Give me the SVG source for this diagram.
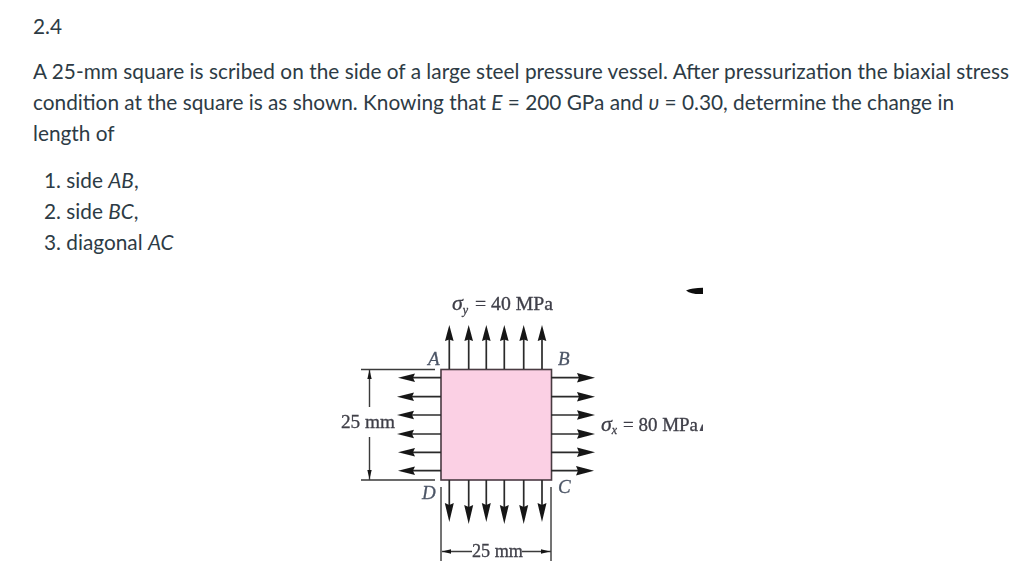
<svg xmlns="http://www.w3.org/2000/svg" width="1024" height="588" viewBox="0 0 1024 588">
<style>
.t{font-family:Lato,"Open Sans","Liberation Sans",sans-serif;font-size:20.8px;fill:#2d3b45}
.i{font-style:italic}
.f{font-family:"Liberation Serif","DejaVu Serif",serif;fill:#3f3f48;stroke:#3f3f48;stroke-width:.3}
.l{font-size:19px;font-style:italic;fill:#4c5566;stroke:#4c5566}
.d{font-size:18px}
.s{font-size:22px;font-style:italic}
.u{font-size:12px;font-style:italic}
.a{stroke:#2b2b2b;stroke-width:1.7;fill:none}
.h{fill:#161616}
.dim{stroke:#3a3a3a;stroke-width:1.4;fill:none}
</style>
<defs>
<filter id="soft" x="-5%" y="-5%" width="110%" height="110%"><feGaussianBlur stdDeviation="0.6"/></filter>
<path id="up" d="M0 0L-4.300 16L0 14.500L4.300 16Z" class="h"/>
<path id="right" d="M0 0L-18 -4.800L-16 0L-18 4.800Z" class="h"/>
<path id="left" d="M0 0L17 -4.300L15 0L17 4.300Z" class="h"/>
<path id="down" d="M0 0L-4.500 -19L0 -17L4.500 -19Z" class="h"/>
<path id="tickr" d="M0 0L-9 -2.200V2.200Z" class="h"/>
<path id="tickl" d="M0 0L9 -2.200V2.200Z" class="h"/>
<path id="ticku" d="M0 0L-2.200 9H2.200Z" class="h"/>
<path id="tickd" d="M0 0L-2.200 -9H2.200Z" class="h"/>
</defs>
<rect width="1024" height="588" fill="#fff"/>
<g id="problem-text">
<text class="t" x="33" y="33.800">2.4</text>
<text class="t" x="33" y="78.800" textLength="976">A 25-mm square is scribed on the side of a large steel pressure vessel. After pressurization the biaxial stress</text>
<text class="t" x="33" y="109.800">condition at the square is as shown. Knowing that <tspan class="i">E</tspan> = 200 GPa and <tspan class="i">υ</tspan> = 0.30, determine the change in</text>
<text class="t" x="33" y="140.800">length of</text>
<text class="t" x="44" y="187.800">1. side <tspan class="i">AB</tspan>,</text>
<text class="t" x="44" y="218.800">2. side <tspan class="i">BC</tspan>,</text>
<text class="t" x="44" y="249.800">3. diagonal <tspan class="i">AC</tspan></text>
</g>
<g id="figure" filter="url(#soft)">
<g id="square"><rect x="441" y="369.500" width="110.500" height="110.500" fill="#fbd0e4" stroke="#4a3a42" stroke-width="1.600"/></g>
<g id="connectors">
<path class="a" d="M449.300 369V336M468.700 369V336M486.300 369V336M504.300 369V336M523.700 369V336M542 369V336"/>
<use href="#up" x="449.300" y="325"/><use href="#up" x="468.700" y="325"/><use href="#up" x="486.300" y="325"/><use href="#up" x="504.300" y="325"/><use href="#up" x="523.700" y="325"/><use href="#up" x="542" y="325"/>
<path class="a" d="M449.300 480V510M468.700 480V510M486.300 480V510M504.300 480V510M523.700 480V510M542 480V510"/>
<use href="#down" x="449.300" y="522"/><use href="#down" x="468.700" y="524"/><use href="#down" x="486.300" y="522"/><use href="#down" x="504.300" y="524"/><use href="#down" x="523.700" y="524"/><use href="#down" x="542" y="522"/>
<path class="a" d="M441 377.700H410M441 396.700H410M441 415H410M441 434H410M441 452.300H410M441 470.700H410"/>
<use href="#left" x="398" y="377.700"/><use href="#left" x="397" y="396.700"/><use href="#left" x="397" y="415"/><use href="#left" x="397" y="434"/><use href="#left" x="398" y="452.300"/><use href="#left" x="398" y="470.700"/>
<path class="a" d="M551 377.700H582M551 396.700H582M551 415H582M551 434H582M551 452.300H582M551 470.700H582"/>
<use href="#right" x="595" y="377.700"/><use href="#right" x="595" y="396.700"/><use href="#right" x="595" y="415"/><use href="#right" x="595" y="434"/><use href="#right" x="595" y="452.300"/><use href="#right" x="594" y="470.700"/>
<path class="dim" d="M361 369.500H435M361 480H435M369.500 370V407M369.500 437V480M441 487V561M551 487V561M442 551.500H472M522 551.500H551"/>
<use href="#ticku" x="369.500" y="370"/><use href="#tickd" x="369.500" y="479"/><use href="#tickl" x="442" y="551.500"/><use href="#tickr" x="550" y="551.500"/>
</g>
<g id="labels">
<text class="f s" x="452" y="310">σ<tspan class="u" dy="4">y</tspan></text>
<text class="f d" x="475" y="310" textLength="78" lengthAdjust="spacingAndGlyphs">= 40 MPa</text>
<text class="f s" x="601" y="431">σ<tspan class="u" dy="3">x</tspan></text>
<text class="f d" x="623" y="431" textLength="75" lengthAdjust="spacingAndGlyphs">= 80 MPa</text>
<text class="f d" x="341" y="428" textLength="54" lengthAdjust="spacingAndGlyphs">25 mm</text>
<text class="f d" x="472" y="557" textLength="51" lengthAdjust="spacingAndGlyphs">25 mm</text>
<text class="f l" x="428" y="365">A</text>
<text class="f l" x="558" y="365">B</text>
<text class="f l" x="558" y="493">C</text>
<text class="f l" x="422" y="499">D</text>
</g>
<path id="mark" d="M686 290.500C690 288.500 696 288 703 287.800V294C696 294.500 690 293.500 686 290.500Z" fill="#111"/>
<path id="mark-2" d="M699.500 431L702 424.500H703V431Z" fill="#4a4a55"/>
</g>
</svg>
